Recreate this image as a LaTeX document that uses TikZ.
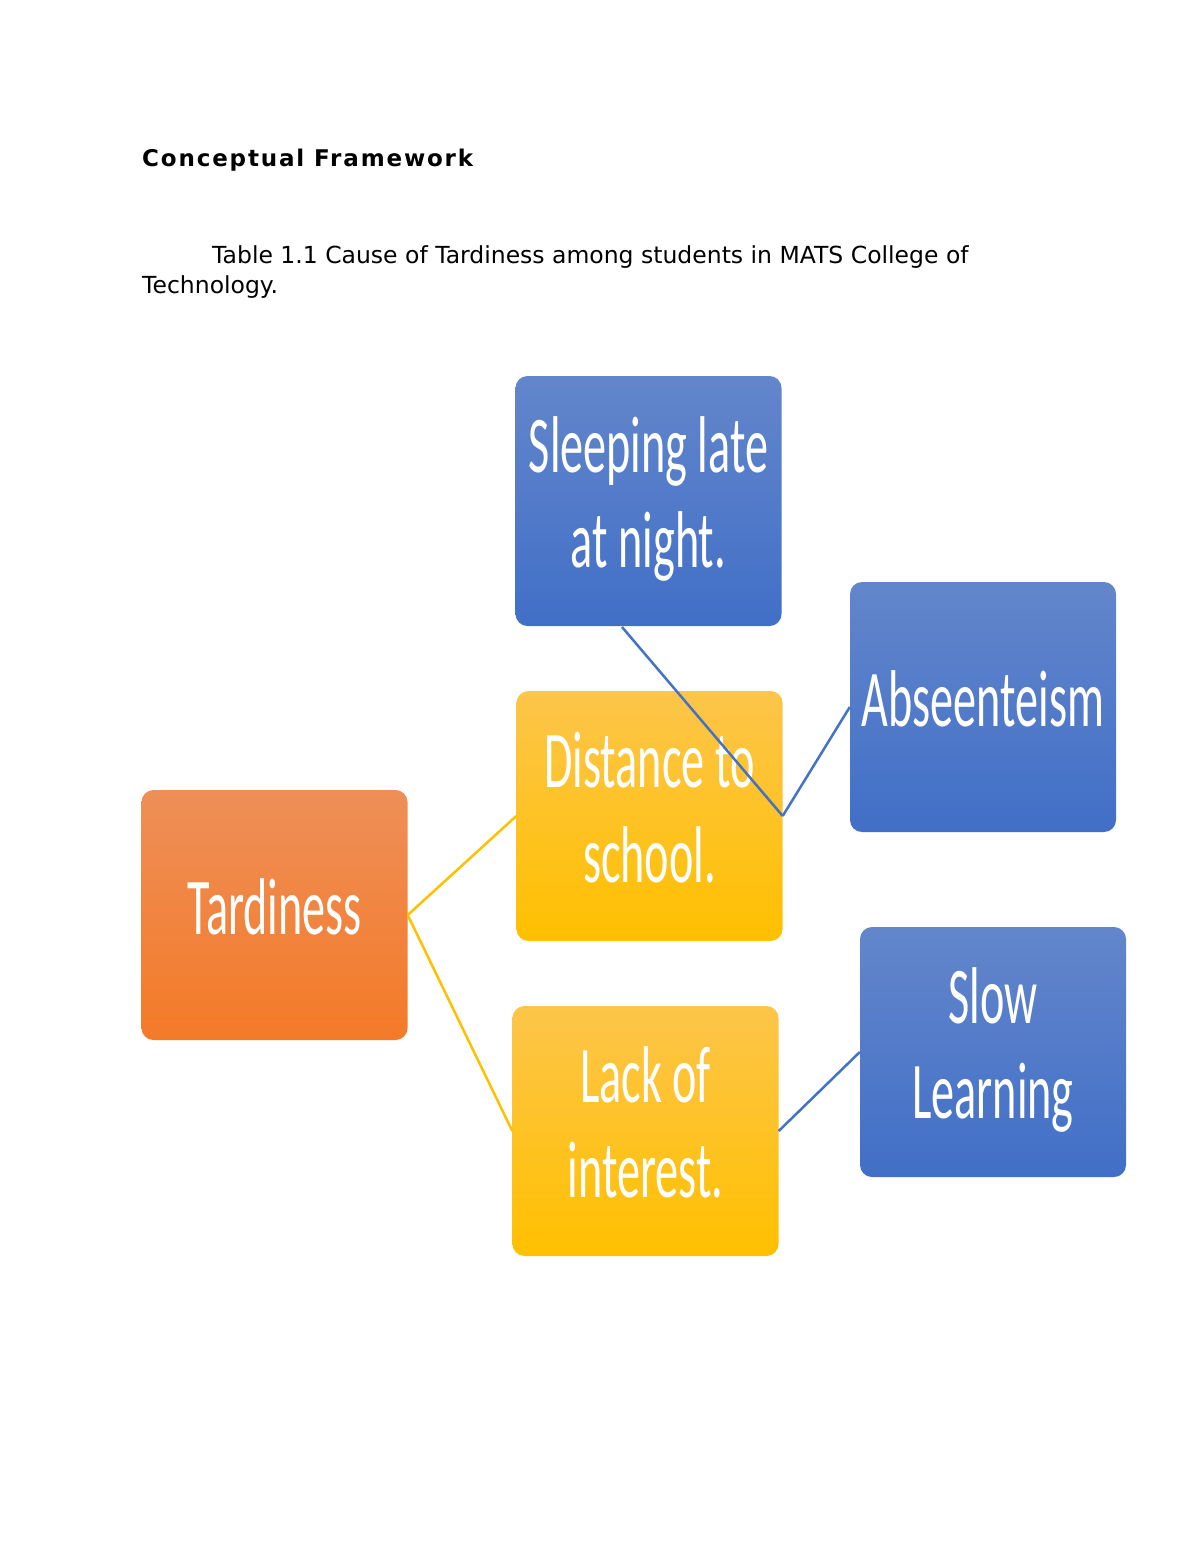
\documentclass[tikz,border=0pt]{standalone}
\usepackage{fontspec}
\setmainfont{DejaVu Sans}
\newfontfamily\boxfont{Carlito}
\newfontfamily\headfont[LetterSpace=8]{DejaVu Sans}
\definecolor{bluetop}{HTML}{6386CB}
\definecolor{bluebot}{HTML}{416FC7}
\definecolor{yeltop}{HTML}{FDC54A}
\definecolor{yelbot}{HTML}{FFC000}
\definecolor{ortop}{HTML}{EE8F58}
\definecolor{orbot}{HTML}{F47A28}
\definecolor{bline}{HTML}{4472C4}
\definecolor{yline}{HTML}{FFC000}
\newcommand{\cardtext}[1]{\scalebox{0.70}[1.22]{\begin{tabular}{@{}c@{}}#1\end{tabular}}}
\begin{document}
\begin{tikzpicture}[x=1pt,y=-1pt,
  card/.style={rounded corners=12pt,minimum width=266pt,minimum height=250pt,inner sep=0pt,
    text=white,align=center,font=\boxfont\fontsize{66}{78}\selectfont},
  bluecard/.style={card,top color=bluetop,bottom color=bluebot},
  yelcard/.style={card,top color=yeltop,bottom color=yelbot},
  orcard/.style={card,top color=ortop,bottom color=orbot},
  bconn/.style={draw=bline,line width=2.5pt},
  yconn/.style={draw=yline,line width=2.5pt}]
\useasboundingbox (0,0) rectangle (1200,1553);
\fill[white] (0,0) rectangle (1200,1553);
\node[anchor=base west,inner sep=0pt,font=\headfont\bfseries\fontsize{23}{28}\selectfont] (title) at (142,166) {Conceptual Framework};
\node[anchor=base west,inner sep=0pt,font=\fontsize{23.5}{30}\selectfont] (cap1) at (212,263) {Table 1.1 Cause of Tardiness among students in MATS College of};
\node[anchor=base west,inner sep=0pt,font=\fontsize{23.5}{30}\selectfont] (cap2) at (142,293) {Technology.};
\node[bluecard] (sleep) at (648.5,501) {\cardtext{Sleeping late\\at night.}};
\node[bluecard] (abs) at (983,707) {\cardtext{Abseenteism}};
\node[yelcard] (dist) at (649.5,816) {\cardtext{Distance to\\school.}};
\node[orcard] (tard) at (274.5,915) {\cardtext{Tardiness}};
\node[yelcard] (lack) at (645.5,1131) {\cardtext{Lack of\\interest.}};
\node[bluecard] (slow) at (993,1052) {\cardtext{Slow\\Learning}};
\coordinate (sb) at (622,627);
\draw[yconn] (tard.east) -- (dist.west);
\draw[yconn] (tard.east) -- (lack.west);
\draw[bconn] (sb) -- (dist.east);
\draw[bconn] (dist.east) -- (abs.west);
\draw[bconn] (lack.east) -- (slow.west);
\end{tikzpicture}
\end{document}
